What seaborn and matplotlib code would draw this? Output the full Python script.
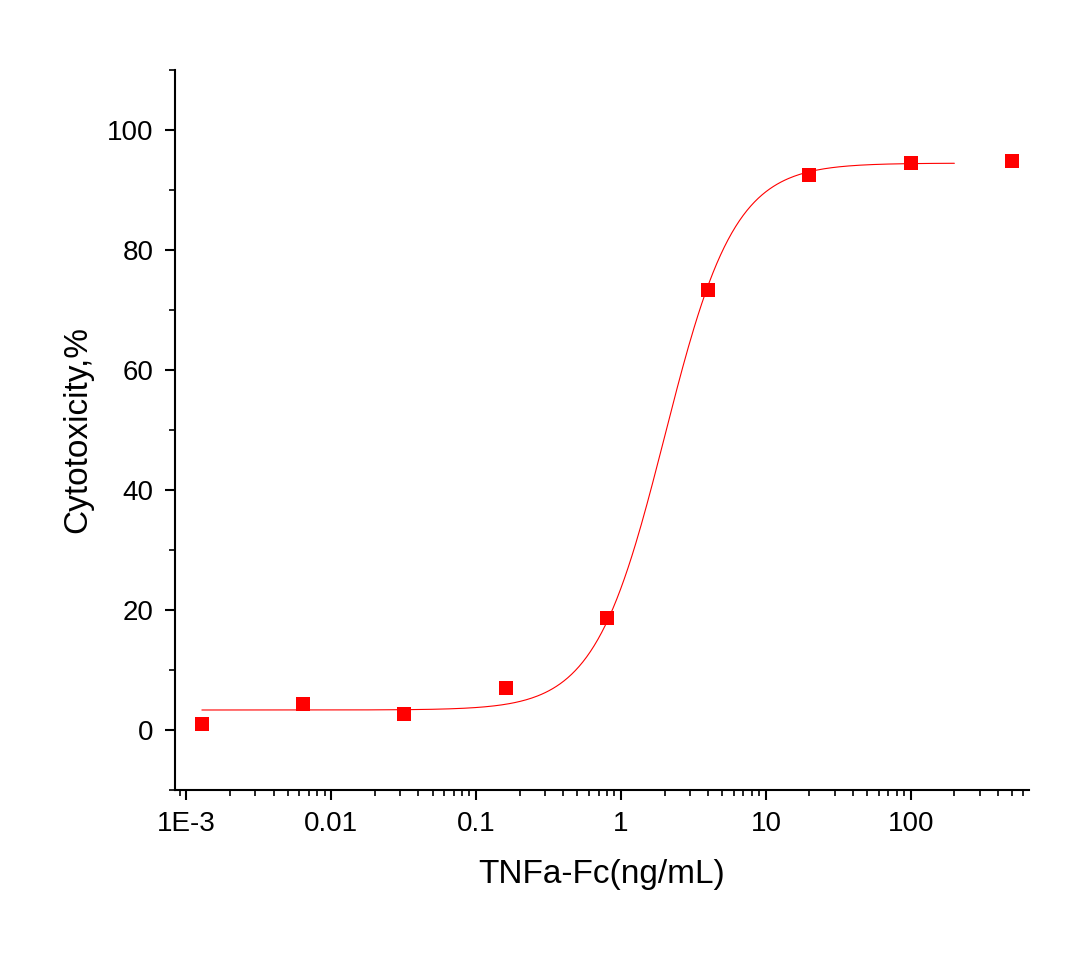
import numpy as np
import seaborn as sns
import matplotlib.pyplot as plt
from matplotlib.ticker import LogLocator, MultipleLocator, FixedLocator, FixedFormatter

# measured points
conc = [0.00128, 0.0064, 0.032, 0.16, 0.8, 4, 20, 100, 500]
cytotox = [1.0, 4.3, 2.6, 7.0, 18.7, 73.3, 92.6, 94.5, 94.8]

# 4PL fit parameters
fit_bottom, fit_top, fit_ec50, fit_hill = 3.3, 94.5, 2.0, 1.8
fit_range = (0.00128, 200)

sns.set_style("ticks")
plt.rcParams["font.family"] = ["Liberation Sans", "DejaVu Sans"]
plt.rcParams["text.color"] = "black"
plt.rcParams["axes.labelcolor"] = "black"

fig = plt.figure(figsize=(10.78, 9.75), dpi=100)
ax = fig.add_axes([0.162, 0.19, 0.793, 0.738])

xf = np.logspace(np.log10(fit_range[0]), np.log10(fit_range[1]), 400)
yf = fit_bottom + (fit_top - fit_bottom) / (1 + (fit_ec50 / xf) ** fit_hill)
sns.lineplot(x=xf, y=yf, ax=ax, color="red", linewidth=0.8)
sns.scatterplot(x=conc, y=cytotox, ax=ax, color="red", marker="s", s=110,
                edgecolor="red", linewidth=0, zorder=3)

ax.set_xscale("log")
ax.set_xlim(8.3e-4, 660)
ax.set_ylim(-10, 110)
ax.xaxis.set_major_locator(FixedLocator([1e-3, 1e-2, 1e-1, 1, 10, 100]))
ax.xaxis.set_major_formatter(FixedFormatter(["1E-3", "0.01", "0.1", "1", "10", "100"]))
ax.xaxis.set_minor_locator(LogLocator(base=10, subs=np.arange(2, 10), numticks=20))
ax.yaxis.set_major_locator(FixedLocator([0, 20, 40, 60, 80, 100]))
ax.yaxis.set_minor_locator(MultipleLocator(10))

for s in ["top", "right"]:
    ax.spines[s].set_visible(False)
for s in ["left", "bottom"]:
    ax.spines[s].set_linewidth(1.5)
    ax.spines[s].set_color("black")
ax.tick_params(which="major", length=7, width=1.5, labelsize=20, direction="out",
               colors="black", pad=8)
ax.tick_params(which="minor", length=4, width=1.2, direction="out", colors="black")

ax.set_xlabel("TNFa-Fc(ng/mL)", fontsize=24, labelpad=16)
ax.set_ylabel("Cytotoxicity,%", fontsize=24, labelpad=10)

fig.savefig("out.png", dpi=100)
